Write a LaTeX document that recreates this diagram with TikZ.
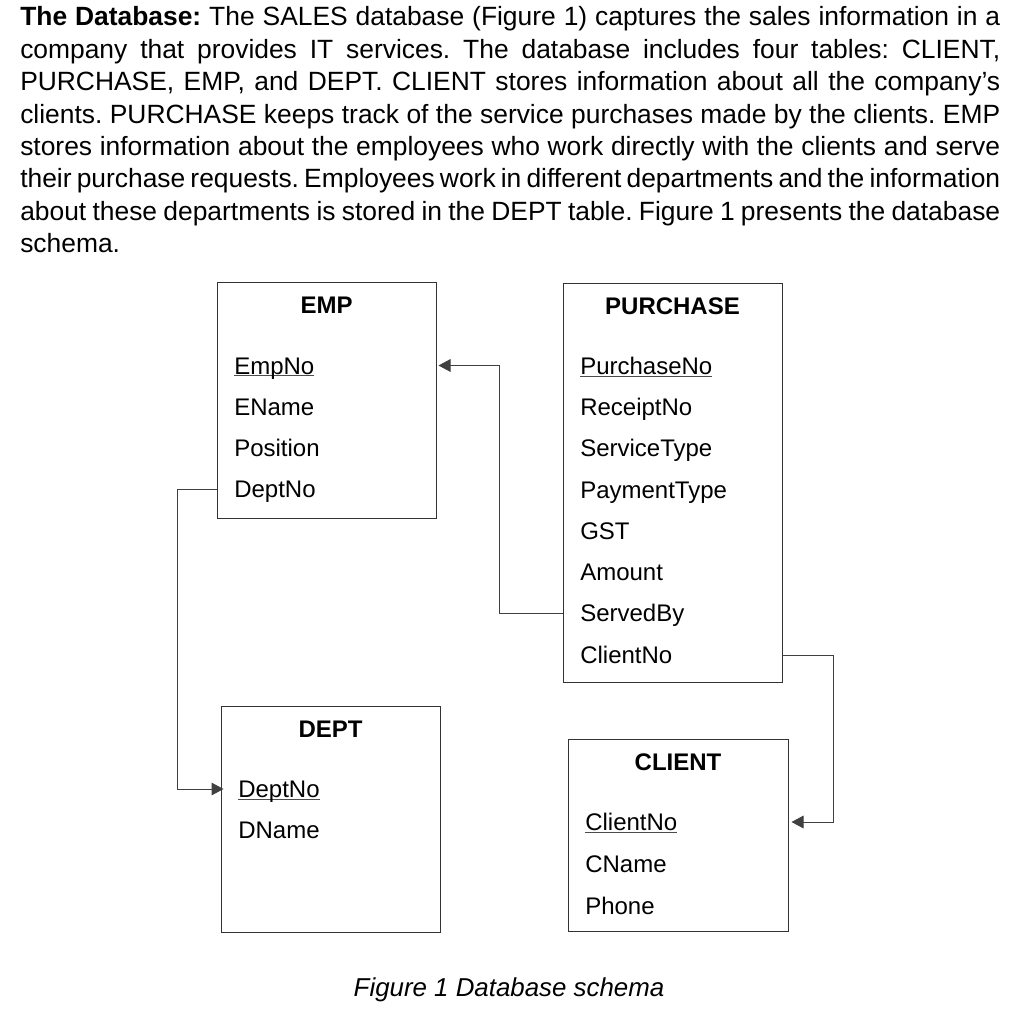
\documentclass[tikz,border=0pt]{standalone}
\usepackage{fontspec}
\setmainfont{Liberation Sans}
\usetikzlibrary{arrows.meta, calc}

% underlined key attribute
\newcommand{\pkey}[1]{\setbox0\hbox{#1}\rlap{\color{black!70}\rule[-1.6pt]{\wd0}{0.6pt}}\box0}

\begin{document}
\begin{tikzpicture}[
    x=0.75pt, y=-0.75pt,
    font=\fontsize{18pt}{24.4pt}\selectfont,
    % Define styles
    table/.style={rectangle, draw=black!80, line width=0.75pt, minimum width=164.25pt, inner sep=0pt},
    header/.style={font=\fontsize{18pt}{24.4pt}\selectfont\bfseries, inner sep=0pt, text height=12.9pt, text depth=0pt},
    field/.style={anchor=west, inner sep=0pt, text height=12.9pt, text depth=0pt},
    fk/.style={-{Triangle[length=9pt, width=9.5pt]}, draw=black!75, line width=0.75pt},
    ]
    \useasboundingbox (0,0) rectangle (1015,1024);

    % Introduction text
    \node[anchor=north west, inner sep=0pt, text width=735pt, align=justify,
          font=\fontsize{19.8pt}{24.3pt}\selectfont\frenchspacing] (intro) at (20,6.5)
        {\textbf{The Database:} The SALES database (Figure 1) captures the sales information in a\linebreak
         company that provides IT services. The database includes four tables: CLIENT,\linebreak
         PURCHASE, EMP, and DEPT. CLIENT stores information about all the company’s\linebreak
         clients. PURCHASE keeps track of the service purchases made by the clients. EMP\linebreak
         stores information about the employees who work directly with the clients and serve\linebreak
         their purchase requests. Employees work in different departments and the information\linebreak
         about these departments is stored in the DEPT table. Figure 1 presents the database\linebreak
         schema.};

    % Tables
    \node[table, minimum height=177pt] (emp) at (326.5,400) {};
    \node[table, minimum height=299.25pt] (purchase) at (672.5,482.5) {};
    \node[table, minimum height=169.5pt] (dept) at (330.5,819) {};
    \node[table, minimum width=165pt, minimum height=144pt] (client) at (678,835) {};

    % Table names
    \node[header] (empTitle) at ($(emp.north)+(0,23)$) {EMP};
    \node[header] (purchaseTitle) at ($(purchase.north)+(0,23)$) {PURCHASE};
    \node[header] (deptTitle) at ($(dept.north)+(0,23)$) {DEPT};
    \node[header] (clientTitle) at ($(client.north)+(0,23)$) {CLIENT};

    % EMP fields
    \node[field] (eEmpNo) at (234,365.5) {\pkey{EmpNo}};
    \node[field] (eEName) at (234,406.5) {EName};
    \node[field] (ePosition) at (234,448) {Position};
    \node[field] (eDeptNo) at (234,489) {DeptNo};

    % PURCHASE fields
    \node[field] (pPurchaseNo) at (580,366) {\pkey{PurchaseNo}};
    \node[field] (pReceiptNo) at (580,407) {ReceiptNo};
    \node[field] (pServiceType) at (580,448) {ServiceType};
    \node[field] (pPaymentType) at (580,490) {PaymentType};
    \node[field] (pGST) at (580,531) {GST};
    \node[field] (pAmount) at (580,572) {Amount};
    \node[field] (pServedBy) at (580,613) {ServedBy};
    \node[field] (pClientNo) at (580,655) {ClientNo};

    % DEPT fields
    \node[field] (dDeptNo) at (238,789) {\pkey{DeptNo}};
    \node[field] (dDName) at (238,830) {DName};

    % CLIENT fields
    \node[field] (cClientNo) at (585,822) {\pkey{ClientNo}};
    \node[field] (cCName) at (585,864) {CName};
    \node[field] (cPhone) at (585,906) {Phone};

    % Foreign keys
    \draw[fk] (pServedBy.west -| purchase.west) -- ++(-63,0) |- ([xshift=1.5pt]eEmpNo.east -| emp.east);
    \draw[fk] (eDeptNo.west -| emp.west) -- ++(-39,0) |- ([xshift=2.25pt]dDeptNo.west -| dept.west);
    \draw[fk] (pClientNo.east -| purchase.east) -- ++(51,0) |- ([xshift=2.25pt]cClientNo.east -| client.east);

    % Caption
    \node[font=\fontsize{19.4pt}{24pt}\selectfont\itshape] (caption) at (509,990) {Figure 1 Database schema};

\end{tikzpicture}
\end{document}
